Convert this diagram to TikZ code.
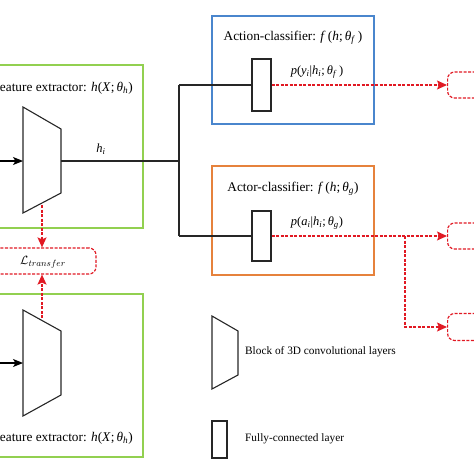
\documentclass[tikz,border=0pt]{standalone}
\usepackage{fontspec}
\setmainfont{Liberation Serif}
\usetikzlibrary{arrows.meta}
\definecolor{gframe}{RGB}{146,208,80}
\definecolor{bframe}{RGB}{74,134,205}
\definecolor{oframe}{RGB}{230,130,60}
\definecolor{lossred}{RGB}{225,25,35}
\newcommand{\mi}[1]{\textit{#1}}
\newcommand{\sbi}[1]{\textsubscript{\textit{#1}}}
\begin{document}
\begin{tikzpicture}[x=1pt,y=-1pt,
  greenbox/.style={draw=gframe, line width=1.2pt, inner sep=0pt, minimum width=163pt, minimum height=163pt},
  bluebox/.style={draw=bframe, line width=1.2pt, inner sep=0pt, minimum width=162pt, minimum height=108pt},
  orangebox/.style={draw=oframe, line width=1.2pt, inner sep=0pt, minimum width=162pt, minimum height=109pt},
  fcbox/.style={draw=black!85, line width=1.1pt, inner sep=0pt, minimum width=19pt},
  lossbox/.style={draw=lossred, dash pattern=on 3pt off 1.5pt, line width=1.2pt, rounded corners=7pt, inner sep=0pt},
  lossline/.style={draw=lossred, dash pattern=on 3pt off 1.5pt, line width=1.2pt, -{Stealth[length=10pt,width=9pt,inset=2pt,fill=lossred]}},
  plainline/.style={draw=black!85, line width=1.1pt},
  inarrow/.style={draw=black, line width=1.1pt, -{Stealth[length=10pt,width=8pt,inset=2.5pt]}},
  trap/.style={draw=black!85, line width=1.1pt},
  titletext/.style={font=\fontsize{13.3}{16}\selectfont, inner sep=0pt},
  labeltext/.style={font=\fontsize{12.5}{15}\selectfont, inner sep=0pt},
  legendtext/.style={font=\fontsize{11.3}{14}\selectfont, inner sep=0pt, anchor=west}
]
\useasboundingbox (0,0) rectangle (474,474);
\clip (0,0) rectangle (474,474);

% green feature extractor boxes
\node[greenbox] (fe1) at (61.5,146.5) {};
\node[greenbox] (fe2) at (61.5,375.5) {};
\node[titletext, anchor=east] (fe1t) at (133,88) {Feature extractor: \mi{h}(\mi{X};\,\mi{θ}\sbi{h})};
\node[titletext, anchor=east] (fe2t) at (133,438) {Feature extractor: \mi{h}(\mi{X};\,\mi{θ}\sbi{h})};

% trapezoids
\coordinate (a1) at (23,107); \coordinate (b1) at (61,129);
\coordinate (c1) at (61,193); \coordinate (d1) at (23,213);
\draw[trap] (a1) -- (b1) -- (c1) -- (d1) -- cycle;
\coordinate (a2) at (23,310); \coordinate (b2) at (61,331);
\coordinate (c2) at (61,395); \coordinate (d2) at (23,416);
\draw[trap] (a2) -- (b2) -- (c2) -- (d2) -- cycle;

% inputs
\coordinate (in1) at (-10,161); \coordinate (in1e) at (23,161);
\coordinate (in2) at (-10,363); \coordinate (in2e) at (23,363);
\draw[inarrow] (in1) -- (in1e);
\draw[inarrow] (in2) -- (in2e);

% h_i and junction
\coordinate (hout) at (61,161);
\coordinate (jm) at (179,161);
\coordinate (jt) at (179,85);
\coordinate (jb) at (179,236);
\draw[plainline] (hout) -- (jm);
\draw[plainline] (jt) -- (jb);
\node[labeltext] (hlab) at (101,149) {\mi{h}\sbi{i}};

% classifier boxes
\node[bluebox] (cls1) at (293,70) {};
\node[orangebox] (cls2) at (293,220.5) {};
\node[titletext] (cls1t) at (293,38) {Action-classifier: \mi{f}\,(\mi{h};\,\mi{θ}\sbi{f}\,)};
\node[titletext] (cls2t) at (293,189) {Actor-classifier: \mi{f}\,(\mi{h};\,\mi{θ}\sbi{g})};
\node[fcbox, minimum height=52pt] (fc1) at (261.5,85) {};
\node[fcbox, minimum height=50pt] (fc2) at (261.5,236) {};
\draw[plainline] (jt) -- (fc1.west);
\draw[plainline] (jb) -- (fc2.west);
\node[labeltext] (p1) at (317,72) {\mi{p}(\mi{y}\sbi{i}|\mi{h}\sbi{i};\,\mi{θ}\sbi{f}\,)};
\node[labeltext] (p2) at (317,223) {\mi{p}(\mi{a}\sbi{i}|\mi{h}\sbi{i};\,\mi{θ}\sbi{g})};

% output boxes
\node[lossbox, minimum width=80pt, minimum height=26pt, anchor=west] (o1) at (447,85) {};
\node[lossbox, minimum width=80pt, minimum height=26pt, anchor=west] (o2) at (447,236) {};
\node[lossbox, minimum width=80pt, minimum height=27pt, anchor=west] (o3) at (447,327) {};
\coordinate (br) at (405,236);
\draw[lossline] (fc1.east) -- (o1.west);
\draw[lossline] (fc2.east) -- (o2.west);
\draw[lossline] (br) |- (o3.west);

% transfer loss
\node[lossbox, minimum width=120pt, minimum height=26pt] (lt) at (36,261) {};
\node[font=\fontsize{13}{15}\selectfont, inner sep=0pt] (ltt) at (43,262) {$\mathcal{L}_{transfer}$};
\coordinate (s1) at (42,205);
\coordinate (s2) at (42,318);
\draw[lossline] (s1) -- (lt.north -| s1);
\draw[lossline] (s2) -- (lt.south -| s2);

% legend
\coordinate (la) at (212,316); \coordinate (lb) at (238,331);
\coordinate (lc) at (238,375); \coordinate (ld) at (212,389);
\draw[trap] (la) -- (lb) -- (lc) -- (ld) -- cycle;
\node[legendtext] (lt1) at (245,352) {Block of 3D convolutional layers};
\node[fcbox, minimum width=15pt, minimum height=37pt] (lfc) at (219.5,439.5) {};
\node[legendtext] (lt2) at (245,439) {Fully-connected layer};
\end{tikzpicture}
\end{document}
